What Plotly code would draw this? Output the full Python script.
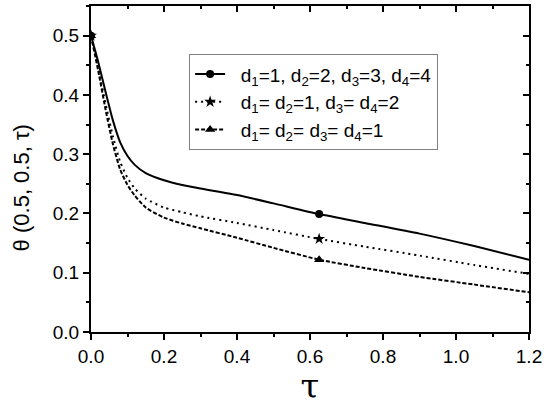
import plotly.graph_objects as go

# dimensionless time tau and theta(0.5, 0.5, tau) for the three cases
tau = [0, 0.02, 0.04, 0.06, 0.08, 0.10, 0.12, 0.15, 0.2, 0.25, 0.3, 0.4, 0.5, 0.625, 0.75, 0.9, 1.05, 1.2]
theta_a = [0.5, 0.455, 0.405, 0.357, 0.320, 0.297, 0.282, 0.268, 0.256, 0.248, 0.242, 0.231, 0.217, 0.199, 0.184, 0.166, 0.145, 0.122]
theta_b = [0.5, 0.445, 0.385, 0.330, 0.287, 0.260, 0.242, 0.225, 0.210, 0.202, 0.195, 0.184, 0.172, 0.157, 0.144, 0.129, 0.113, 0.098]
theta_c = [0.5, 0.440, 0.375, 0.317, 0.274, 0.248, 0.230, 0.210, 0.193, 0.183, 0.175, 0.159, 0.142, 0.122, 0.108, 0.093, 0.080, 0.067]

labels = [
    "d<sub>1</sub>=1, d<sub>2</sub>=2, d<sub>3</sub>=3, d<sub>4</sub>=4",
    "d<sub>1</sub>= d<sub>2</sub>=1, d<sub>3</sub>= d<sub>4</sub>=2",
    "d<sub>1</sub>= d<sub>2</sub>= d<sub>3</sub>= d<sub>4</sub>=1",
]
marker_idx = [0, 13]  # points that carry a symbol

series = [
    (theta_a, "solid", "circle", 8),
    (theta_b, "2px,4px", "star", 9),
    (theta_c, "4px,2px", "triangle-up", 9),
]

fig = go.Figure()
for (ys, dash, sym, msize), name in zip(series, labels):
    fig.add_trace(go.Scatter(x=tau, y=ys, mode="lines", line_shape="spline",
                             line=dict(color="black", width=2, dash=dash, smoothing=0.6),
                             showlegend=False, hoverinfo="skip"))
    fig.add_trace(go.Scatter(x=[tau[i] for i in marker_idx], y=[ys[i] for i in marker_idx],
                             mode="markers", marker=dict(symbol=sym, size=msize, color="black"),
                             showlegend=False))
    fig.add_trace(go.Scatter(x=[None], y=[None], mode="lines+markers",
                             name="\u00a0\u00a0" + name,
                             line=dict(color="black", width=2, dash=dash),
                             marker=dict(symbol=sym, size=msize, color="black")))

# dummy trace to get the top/right axes drawn
fig.add_trace(go.Scatter(x=[None], y=[None], xaxis="x2", yaxis="y2", showlegend=False))

font = "Arial, Liberation Sans, sans-serif"
axis_common = dict(showline=True, linecolor="black", linewidth=2, showgrid=False,
                   zeroline=False, tickcolor="black", tickwidth=1.5, automargin=False)

fig.update_layout(
    width=550, height=406,
    margin=dict(l=91, r=21, t=6, b=74),
    paper_bgcolor="white", plot_bgcolor="white",
    font=dict(family=font, color="black", size=19),
    xaxis=dict(range=[0, 1.2], dtick=0.2, tickformat=".1f", ticks="outside", ticklen=6,
               minor=dict(ticks="outside", dtick=0.1, ticklen=3, tickcolor="black"),
               title=dict(text="τ", font=dict(size=34, family="DejaVu Serif, serif"), standoff=2),
               **axis_common),
    yaxis=dict(range=[0, 0.55], dtick=0.1, tickformat=".1f", ticks="outside", ticklen=6,
               minor=dict(ticks="outside", dtick=0.05, ticklen=3, tickcolor="black"),
               **axis_common),
    xaxis2=dict(range=[0, 1.2], dtick=0.2, overlaying="x", side="top", ticks="inside", ticklen=6,
                showticklabels=False,
                minor=dict(ticks="inside", dtick=0.1, ticklen=3, tickcolor="black"),
                **axis_common),
    yaxis2=dict(range=[0, 0.55], dtick=0.1, overlaying="y", side="right", ticks="inside", ticklen=6,
                showticklabels=False,
                minor=dict(ticks="inside", dtick=0.05, ticklen=3, tickcolor="black"),
                **axis_common),
    legend=dict(x=0.224, y=0.852, xanchor="left", yanchor="top",
                bordercolor="gray", borderwidth=1, bgcolor="white",
                font=dict(size=19), tracegroupgap=0),
)

# y title sits a bit below the axis centre, as in the original
fig.add_annotation(text="θ (0.5, 0.5, τ)", textangle=-90, font=dict(size=22),
                   xref="paper", yref="paper", x=-0.158, y=0.443,
                   xanchor="center", yanchor="middle", showarrow=False)

# drop the default page margin so the figure sits at the window corner
fig.write_html("out.html", config={"displayModeBar": False},
               post_script="document.body.style.margin='0px';")
